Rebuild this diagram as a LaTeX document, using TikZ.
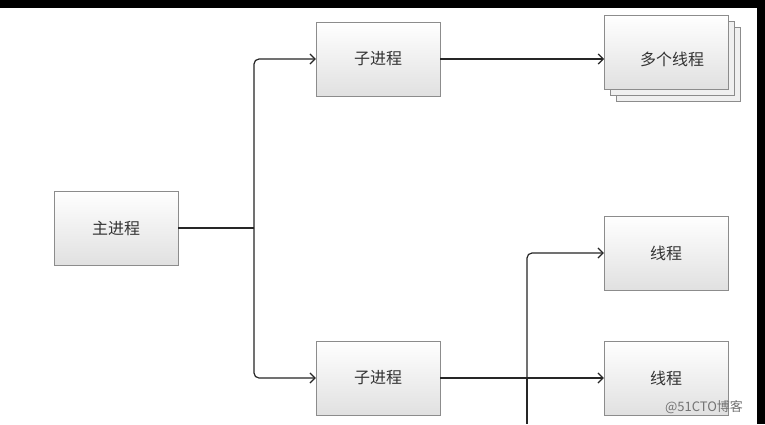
\documentclass[tikz,border=0pt]{standalone}
\usepackage{fontspec}
\setmainfont{Noto Sans CJK SC}
\begin{document}
\begin{tikzpicture}[x=1pt,y=-1pt,
  box/.style={draw=black!45,top color=white,bottom color=black!12,minimum width=124pt,minimum height=74pt,inner sep=0,font=\fontsize{16}{18}\selectfont,text=black!80},
  shd/.style={draw=black!45,fill=black!6,minimum width=124pt,minimum height=74pt,inner sep=0},
  conn/.style={draw=black!85,line width=1.2pt,rounded corners=5pt},
  arr/.style={conn,->,>={Straight Barb[length=5pt,width=10pt]}}]
\usetikzlibrary{arrows.meta}
\useasboundingbox (0,0) rectangle (765,424);
\fill[white] (0,0) rectangle (765,424);
\fill[black] (0,0) rectangle (765,8);
\fill[black] (757,0) rectangle (765,424);
\node[box] (m) at (116,228) {主进程};
\node[box] (s1) at (378,59) {子进程};
\node[shd] at (678,64) {};
\node[shd] at (672,58) {};
\node[box] (mt) at (666,52) {};
\node[font=\fontsize{16}{18}\selectfont,text=black!80] (mtl) at (672,59) {多个线程};
\node[box] (t1) at (666,253) {线程};
\node[box] (s2) at (378,378) {子进程};
\node[box] (t2) at (666,378) {线程};
\coordinate (j1) at (254,228);
\coordinate (j2) at (527,378);
\draw[conn] (m.east) -- (j1);
\draw[arr] (j1) -- (254,59) -- (s1.west);
\draw[arr] (j1) -- (254,378) -- (s2.west);
\draw[arr] (s1.east) -- (604,59);
\draw[conn] (s2.east) -- (j2);
\draw[arr] (j2) -- (527,253) -- (t1.west);
\draw[arr] (j2) -- (t2.west);
\draw[conn] (j2) -- (527,424);
\node[text=black!55,font=\fontsize{13}{14}\selectfont,inner sep=0] (wm) at (704,407) {@51CTO博客};
\end{tikzpicture}
\end{document}
